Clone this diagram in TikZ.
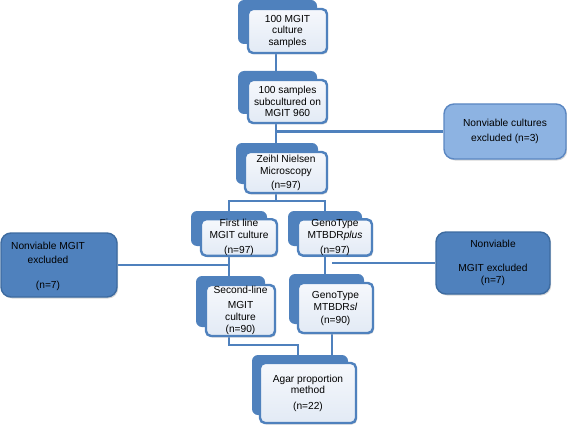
\documentclass[tikz,border=0pt]{standalone}
\usepackage{fontspec}
\setmainfont{Liberation Sans}
\usetikzlibrary{backgrounds,shadows}
\definecolor{backc}{HTML}{4F81BD}
\definecolor{fronttop}{HTML}{F6F8FC}
\definecolor{frontbot}{HTML}{E2EAF5}
\definecolor{linec}{HTML}{4F81BD}
\definecolor{darkfill}{HTML}{4F81BD}
\definecolor{darkborder}{HTML}{3D6BA0}
\definecolor{lightfill}{HTML}{8DB3E2}
\definecolor{lightborder}{HTML}{5B87C2}
\definecolor{shadowc}{HTML}{BDBDBD}
\begin{document}
\begin{tikzpicture}[x=1pt,y=-1pt,
  backbox/.style={draw=none, fill=backc, rounded corners=6pt, inner sep=0pt},
  frontbox/.style={draw=linec, line width=2.4pt, top color=fronttop, bottom color=frontbot,
    rounded corners=5pt, inner sep=0pt, align=center, font=\fontsize{10.2}{11.5}\selectfont,
    drop shadow={shadow xshift=1.2pt, shadow yshift=-1.5pt, fill=shadowc, opacity=0.6}},
  darkbox/.style={draw=darkborder, line width=1.4pt, fill=darkfill, rounded corners=10pt,
    inner sep=0pt, align=center, font=\fontsize{10.2}{12.5}\selectfont,
    drop shadow={shadow xshift=1.2pt, shadow yshift=-1.5pt, fill=shadowc, opacity=0.6}},
  lightbox/.style={draw=lightborder, line width=1.4pt, fill=lightfill, rounded corners=10pt,
    inner sep=0pt, align=center, font=\fontsize{10.2}{12}\selectfont,
    drop shadow={shadow xshift=1.2pt, shadow yshift=-1.5pt, fill=shadowc, opacity=0.6}},
  txt/.style={inner sep=0pt, align=center, font=\fontsize{10.2}{14}\selectfont},
  conn/.style={draw=linec, line width=2.4pt},
  connshadow/.style={draw=shadowc, line width=2.4pt, shift={(1,1.8)}}]
\useasboundingbox (0,0) rectangle (567,425);

% column coordinates
\coordinate (xa) at (276,0);
\coordinate (xb) at (229,0);
\coordinate (xc) at (325,0);
\coordinate (xd) at (298,0);
\coordinate (xe) at (332,0);
\coordinate (h3) at (276,201);
\coordinate (h6) at (229,345);

% box 1
\node[backbox, minimum width=79pt, minimum height=44pt] (b1) at (277.5,22) {};
\node[frontbox, minimum width=79pt, minimum height=44pt] (f1) at (287.5,31) {100 MGIT\\culture\\samples};
% box 2
\node[backbox, minimum width=79pt, minimum height=43pt] (b2) at (277.5,92.5) {};
\node[frontbox, minimum width=79pt, minimum height=43pt] (f2) at (287.5,101.5) {100 samples\\subcultured on\\MGIT 960};
% box 3
\node[backbox, minimum width=82pt, minimum height=41pt] (b3) at (277,163.5) {};
\node[frontbox, minimum width=82pt, minimum height=41pt, font=\fontsize{10.2}{12}\selectfont] (f3) at (286,172.5) {Zeihl Nielsen\\Microscopy\\[2pt](n=97)};
% box 4
\node[backbox, minimum width=76pt, minimum height=35pt] (b4) at (229,228.5) {};
\node[frontbox, minimum width=76pt, minimum height=35pt, font=\fontsize{10.2}{12}\selectfont] (f4) at (239,237.5) {First line\\MGIT culture\\[3pt](n=97)};
% box 5
\node[backbox, minimum width=74pt, minimum height=35pt] (b5) at (325,228.5) {};
\node[frontbox, minimum width=74pt, minimum height=35pt, font=\fontsize{10.2}{12}\selectfont] (f5) at (335,237.5) {GenoType\\MTBDR\textit{plus}\\[3pt](n=97)};
% box 6
\node[backbox, minimum width=69pt, minimum height=51pt] (b6) at (230.5,301.5) {};
\node[frontbox, minimum width=69pt, minimum height=51pt, font=\fontsize{10.2}{12}\selectfont] (f6) at (240.5,310.5) {Second-line\\[3pt]MGIT\\culture\\(n=90)};
% box 7
\node[backbox, minimum width=75pt, minimum height=50pt] (b7) at (326.5,299) {};
\node[frontbox, minimum width=75pt, minimum height=50pt, font=\fontsize{10.2}{12}\selectfont] (f7) at (335.5,308) {GenoType\\MTBDR\textit{sl}\\[1pt](n=90)};
% box 8
\node[backbox, minimum width=96pt, minimum height=60pt] (b8) at (300,385) {};
\node[frontbox, minimum width=96pt, minimum height=60pt] (f8) at (308,393) {Agar proportion\\method\\[4pt](n=22)};

% side boxes
\node[lightbox, minimum width=122pt, minimum height=55pt] (T) at (505,131.5) {Nonviable cultures\\[3pt]excluded (n=3)};
\node[darkbox, minimum width=116pt, minimum height=64pt] (L) at (59,265) {};
\node[txt] (Lt) at (48,266.5) {Nonviable MGIT\\excluded\\[11pt](n=7)};
\node[darkbox, minimum width=114pt, minimum height=62pt] (R) at (493,263) {Nonviable\\[11pt]MGIT excluded\\(n=7)};

\begin{scope}[on background layer]
  \foreach \s in {connshadow,conn}{
  \draw[\s] (f1.south -| xa) -- (b2.north -| xa);
  \draw[\s] (f2.south -| xa) -- (b3.north -| xa);
  \draw[\s] (T.west -| xa) -- (T.west);
  \draw[\s] (f3.south -| xa) -- (h3);
  \draw[\s] (b4.north -| xb) -- (xb |- h3) -- (xc |- h3) -- (b5.north -| xc);
  \draw[\s] (f4.south -| xb) -- (b6.north -| xb);
  \draw[\s] (L.east) -- (L.east -| xb);
  \draw[\s] (f5.south -| xc) -- (b7.north -| xc);
  \draw[\s] (R.west -| xe) -- (R.west);
  \draw[\s] (f6.south -| xb) -- (h6) -- (xd |- h6) -- (b8.north -| xd);
  \draw[\s] (f7.south -| xe) -- (b8.north -| xe);
  }
\end{scope}
\end{tikzpicture}
\end{document}
